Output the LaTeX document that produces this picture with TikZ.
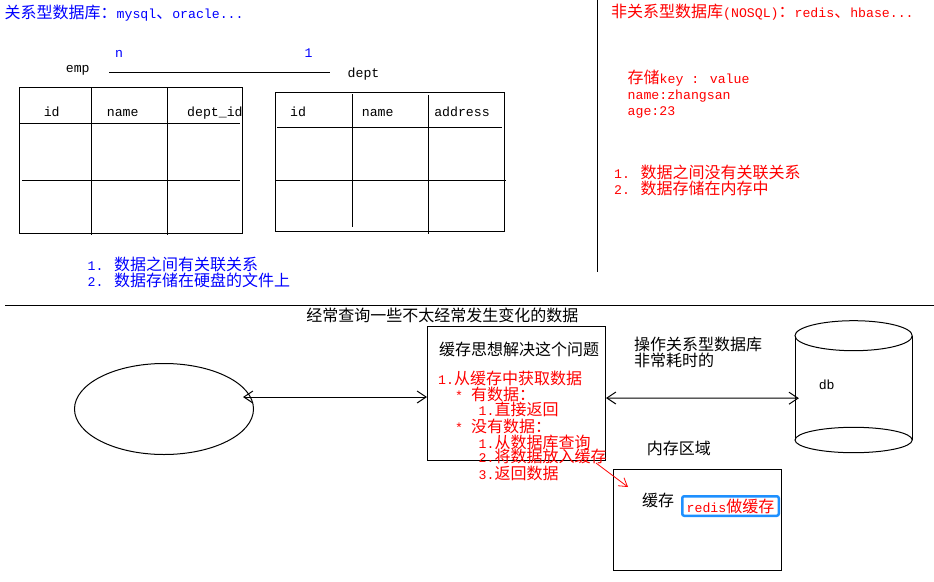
\documentclass[tikz,border=0pt]{standalone}
\usepackage{fontspec}
\setmainfont{Noto Sans CJK SC}
\newfontfamily\monof{Liberation Mono}
\usetikzlibrary{arrows.meta,shapes.geometric}
\newcommand\mtx[1]{{\monof\fontsize{13.2pt}{16pt}\selectfont #1}}
\definecolor{myblue}{RGB}{0,0,255}
\definecolor{myred}{RGB}{255,0,0}
\definecolor{boxblue}{RGB}{30,144,255}
\begin{document}
\begin{tikzpicture}[x=1pt,y=-1pt,
  txt/.style={inner sep=0pt,anchor=base west,font=\fontsize{16pt}{16pt}\selectfont},
  ln/.style={line width=1pt},
  arr/.style={line width=1pt,{Straight Barb[length=9pt,width=12pt]}-{Straight Barb[length=9pt,width=12pt]}},
]
\useasboundingbox (0,0) rectangle (934,581);
% ---------- top left: relational
\node[txt,text=myblue] (t1) at (4.5,18) {关系型数据库：\mtx{mysql}、\mtx{oracle...}};
\node[txt,text=myblue] (n) at (115,57.3) {\mtx{n}};
\node[txt,text=myblue] (one) at (304.3,57.3) {\mtx{1}};
\node[txt] (emp) at (65.7,72.7) {\mtx{emp}};
\node[txt] (dept) at (347.5,77.5) {\mtx{dept}};
\coordinate (rl) at (109,72);
\coordinate (rr) at (330,72);
\draw[ln] (rl) -- (rr);
% emp table
\draw[ln] (19.5,87.5) rectangle (242,233);
\draw[ln] (19.5,123.5) -- (240,123.5);
\draw[ln] (22,180) -- (240,180);
\draw[ln] (91.5,87.5) -- (91.5,235);
\draw[ln] (167.5,87.5) -- (167.5,235);
\node[txt] (h1) at (43.6,116.5) {\mtx{id}};
\node[txt] (h2) at (106.7,116.5) {\mtx{name}};
\node[txt] (h3) at (187,116.5) {\mtx{dept\_id}};
% dept table
\draw[ln] (275.5,92.5) rectangle (504.5,231);
\draw[ln] (277,127.5) -- (502,127.5);
\draw[ln] (275.5,180) -- (505.5,180);
\draw[ln] (352.5,94) -- (352.5,227);
\draw[ln] (428.5,95) -- (428.5,233.5);
\node[txt] (d1) at (289.9,116) {\mtx{id}};
\node[txt] (d2) at (361.7,116) {\mtx{name}};
\node[txt] (d3) at (434.1,116) {\mtx{address}};
\node[txt,text=myblue] (l1) at (87.5,270.3) {\mtx{1. }数据之间有关联关系};
\node[txt,text=myblue] (l2) at (87.5,286) {\mtx{2. }数据存储在硬盘的文件上};
% ---------- top right: NoSQL
\node[txt,text=myred] (t2) at (611,17.7) {非关系型数据库\mtx{(NOSQL)}：\mtx{redis}、\mtx{hbase...}};
\node[txt,text=myred] (k1) at (627.5,83) {存储\mtx{key : value}};
\node[txt,text=myred] (k2) at (627.5,99) {\mtx{name:zhangsan}};
\node[txt,text=myred] (k3) at (627.5,115) {\mtx{age:23}};
\node[txt,text=myred] (r1) at (614,178.7) {\mtx{1. }数据之间没有关联关系};
\node[txt,text=myred] (r2) at (614,194.3) {\mtx{2. }数据存储在内存中};
% dividers
\draw[ln] (597.5,0) -- (597.5,271.5);
\draw[ln] (5,305.5) -- (934,305.5);
% ---------- bottom: cache
\node[txt,anchor=base] (q) at (442.3,321.8) {经常查询一些不太经常发生变化的数据};
\node[draw,ln,ellipse,minimum width=179pt,minimum height=91pt,inner sep=0pt] (ell) at (164,409) {};
\node[draw,ln,minimum width=178pt,minimum height=134pt,inner sep=0pt] (cache) at (516.5,393) {};
\node[txt] (c0) at (439,355) {缓存思想解决这个问题};
\node[txt,text=myred] (c1) at (438,384) {\mtx{1.}从缓存中获取数据};
\node[txt,text=myred] (c2) at (455,400) {\mtx{* }有数据：};
\node[txt,text=myred] (c3) at (478.5,415) {\mtx{1.}直接返回};
\node[txt,text=myred] (c4) at (455,432) {\mtx{* }没有数据：};
\node[txt,text=myred] (c5) at (478.5,448) {\mtx{1.}从数据库查询};
\node[txt,text=myred] (c6) at (478.5,462.5) {\mtx{2.}将数据放入缓存};
\node[txt,text=myred] (c7) at (478.5,479) {\mtx{3.}返回数据};
\node[txt] (op1) at (634,350) {操作关系型数据库};
\node[txt] (op2) at (634,366.7) {非常耗时的};
% db cylinder
\draw[ln] (853.6,335.7) ellipse [x radius=58.6, y radius=15];
\draw[ln] (795,335.7) -- (795,440) (912.3,335.7) -- (912.3,440);
\draw[ln] (853.6,440) ellipse [x radius=58.6, y radius=12.7];
\node[inner sep=0pt,minimum width=117pt,minimum height=132pt] (db) at (853.6,386.7) {};
\node[txt,anchor=base] (dbl) at (826.7,389) {\mtx{db}};
% memory area
\node[txt] (memt) at (646.7,454.3) {内存区域};
\node[draw,ln,minimum width=168pt,minimum height=101pt,inner sep=0pt] (mem) at (697,519.5) {};
\node[txt] (hc) at (642,506) {缓存};
\node[draw=boxblue,line width=2.5pt,rounded corners=2pt,minimum width=96.5pt,minimum height=19.5pt,inner sep=0pt,text=myred,font=\fontsize{16pt}{16pt}\selectfont] (redis) at (730.5,506) {\mtx{redis}做缓存};
% arrows
\coordinate (a1) at ([xshift=-11pt,yshift=12pt]ell.east);
\draw[arr] (a1) -- (a1 -| cache.west);
\draw[arr] ([yshift=-5pt]cache.east) -- ([yshift=-11.5pt,xshift=4pt]db.west);
\coordinate (rs) at (596,463);
\coordinate (re) at (628,487);
\draw[myred,line width=0.8pt,-{Straight Barb[length=8pt,width=10pt]}] (rs) -- (re);
\end{tikzpicture}
\end{document}
